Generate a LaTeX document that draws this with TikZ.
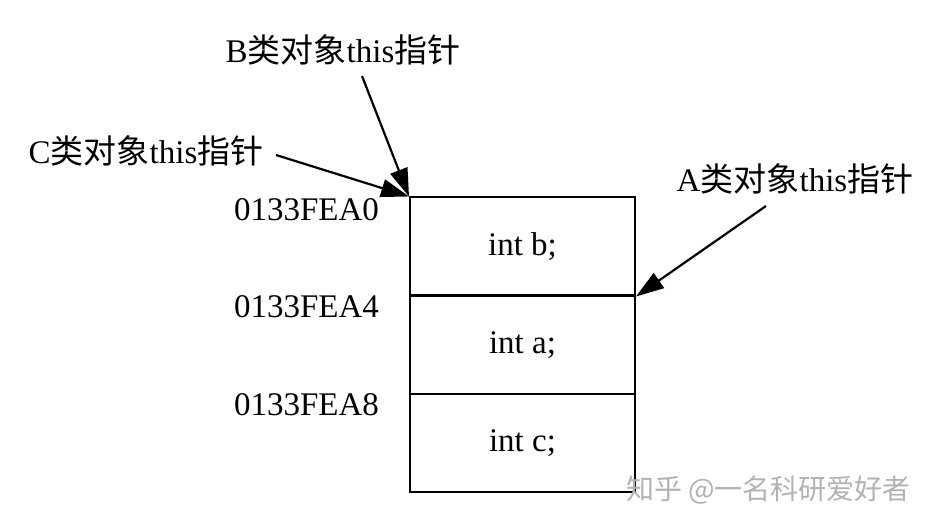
\documentclass[tikz,border=0pt]{standalone}
\usepackage{fontspec}
\setmainfont{Liberation Serif}
\newfontfamily\cjk{Noto Sans CJK SC}
\usetikzlibrary{arrows.meta}
\begin{document}
\begin{tikzpicture}[x=0.5pt,y=-0.5pt,
  lbl/.style={font=\fontsize{16.5}{19}\selectfont},
  cell/.style={draw,line width=1pt,minimum width=112.5pt,minimum height=49pt,inner sep=0pt,font=\fontsize{16.5}{19}\selectfont},
  ptr/.style={line width=1.1pt,-{Triangle[length=14pt,width=9pt]}}]
\useasboundingbox (0,0) rectangle (939,528);
\node[cell] (b) at (522.5,246.5) {int b;};
\node[cell] (a) at (522.5,345) {int a;};
\node[cell] (c) at (522.5,443) {int c;};
\node[lbl,anchor=east] (l0) at (386,210) {0133FEA0};
\node[lbl,anchor=east] (l4) at (386,307) {0133FEA4};
\node[lbl,anchor=east] (l8) at (386,405) {0133FEA8};
\node[lbl] (B) at (343,50) {B{\cjk 类对象}this{\cjk 指针}};
\node[lbl] (C) at (146,151) {C{\cjk 类对象}this{\cjk 指针}};
\node[lbl] (A) at (795,179) {A{\cjk 类对象}this{\cjk 指针}};
\coordinate (bs) at (362,76);
\coordinate (cs) at (276,155);
\coordinate (as) at (766,206);
\draw[ptr] (bs) -- (b.north west);
\draw[ptr] (cs) -- (b.north west);
\draw[ptr] (as) -- (b.south east);
\node[font=\fontsize{14}{16}\selectfont\cjk,text=gray!60,anchor=east] (wm) at (918,490) {知乎 @一名科研爱好者};
\end{tikzpicture}
\end{document}
